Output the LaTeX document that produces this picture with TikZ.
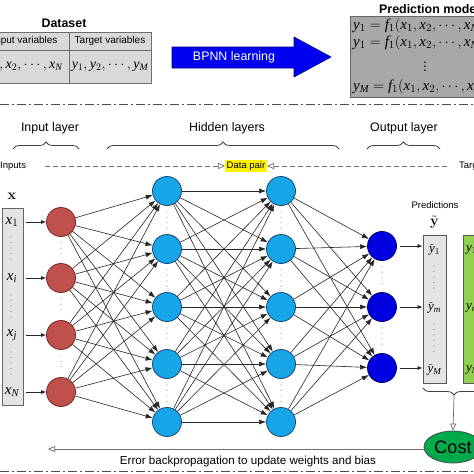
\documentclass[tikz,border=0pt]{standalone}
\usepackage[no-math]{fontspec}
\setmainfont{Liberation Sans}
\newfontfamily\tmsfont{Liberation Serif}[NFSSFamily=libser]
\DeclareSymbolFont{letters}{TU}{libser}{m}{it}
\mathcode`\,="602C
\usetikzlibrary{arrows.meta,decorations.pathreplacing,shapes.geometric,calc}
\newcommand\myfs[1]{\fontsize{#1}{#1}\selectfont}
\definecolor{rednode}{RGB}{192,80,77}
\definecolor{rededge}{RGB}{120,40,38}
\definecolor{hidnode}{RGB}{22,165,230}
\definecolor{hidedge}{RGB}{20,70,120}
\definecolor{outnode}{RGB}{0,0,225}
\definecolor{outedge}{RGB}{0,0,110}
\definecolor{greenbox}{RGB}{146,208,80}
\definecolor{costgreen}{RGB}{0,170,75}
\definecolor{tablegray}{RGB}{217,217,217}
\definecolor{predgray}{RGB}{168,168,168}
\definecolor{boxgray}{RGB}{228,228,228}
\definecolor{linegray}{RGB}{110,110,110}
\definecolor{arrowblue}{RGB}{0,0,240}
\begin{document}
\begin{tikzpicture}[x=1pt,y=-1pt,
  lbl/.style={font=\myfs{12.4}, inner sep=0},
  smalllbl/.style={font=\myfs{9.5}, inner sep=0},
  titlelbl/.style={font=\myfs{12.4}\bfseries, inner sep=0},
  mathlbl/.style={font=\myfs{13}, inner sep=0},
  neuron/.style={circle, minimum size=29pt, inner sep=0, line width=0.8pt},
  rn/.style={neuron, fill=rednode, draw=rededge},
  hn/.style={neuron, fill=hidnode, draw=hidedge},
  on/.style={neuron, fill=outnode, draw=outedge},
  conn/.style={-{Latex[length=7pt,width=5pt]}, line width=0.6pt, black!85},
  sarr/.style={-{Latex[length=5pt,width=4pt]}, line width=0.7pt, black!85},
  openarr/.style={-{Triangle[open,length=7pt,width=6pt]}, line width=0.7pt, linegray},
  dasharr/.style={openarr, dash pattern=on 5pt off 3pt},
  dashdot/.style={line width=1pt, black!70, dash pattern=on 9pt off 3pt on 2pt off 3pt},
  ellip/.style={line cap=round, dash pattern=on 0pt off 5.5pt, line width=1.1pt, black!55},
  bracestyle/.style={decorate, decoration={brace, amplitude=7pt}, line width=0.8pt, black!75}
]
\useasboundingbox (0,0) rectangle (474,474);
\clip (0,0) rectangle (474,474);
\fill[white] (0,0) rectangle (474,474);

% ---------- top section ----------
\node[titlelbl] (dstitle) at (64,23) {Dataset};
\fill[tablegray] (-20,32) rectangle (151,83);
\draw[linegray, line width=0.8pt] (-20,32) rectangle (151,83);
\draw[linegray, line width=0.8pt] (-20,50) -- (151,50);
\draw[linegray, line width=0.8pt] (69,32) -- (69,83);
\node[font=\myfs{10}, inner sep=0] (inv) at (25,41) {Input variables};
\node[font=\myfs{10}, inner sep=0] (tgv) at (110,41) {Target variables};
\node[font=\myfs{14}, inner sep=0] (xs) at (25,67) {$x_1,x_2,\cdots,x_N$};
\node[font=\myfs{14}, inner sep=0] (ys) at (110,67) {$y_1,y_2,\cdots,y_M$};

\filldraw[fill=arrowblue, draw=blue!50!black, line width=0.6pt]
  (172,47) -- (294,47) -- (294,37) -- (331,57) -- (294,77) -- (294,68) -- (172,68) -- cycle;
\node[lbl, text=white] (bpnn) at (234,57.5) {BPNN learning};

\node[titlelbl, anchor=west] (pmtitle) at (379,9) {Prediction model};
\fill[predgray] (350,16) rectangle (490,97);
\draw[black!60, line width=0.8pt] (350,16) rectangle (490,97);
\node[font=\myfs{15}, inner sep=0, anchor=west] (pm1) at (353,26) {$y_1 = f_1(x_1,x_2,\cdots,x_N)$};
\node[font=\myfs{15}, inner sep=0, anchor=west] (pm2) at (353,43) {$y_1 = f_1(x_1,x_2,\cdots,x_N)$};
\node[font=\myfs{14}, inner sep=0] (pmdots) at (425,64) {$\vdots$};
\node[font=\myfs{15}, inner sep=0, anchor=west] (pm3) at (353,87) {$y_M = f_1(x_1,x_2,\cdots,x_N)$};

\draw[dashdot] (0,104) -- (474,104);

% ---------- layer labels ----------
\node[lbl] (inlab) at (50,128) {Input layer};
\node[lbl] (hidlab) at (227,128) {Hidden layers};
\node[lbl] (outlab) at (404,128) {Output layer};
\draw[bracestyle] (13,149) -- (79,149);
\draw[bracestyle] (107,149) -- (339,149);
\draw[bracestyle] (367,149) -- (440,149);

\node[smalllbl, anchor=west] (inputs) at (0,166) {Inputs};
\node[smalllbl, fill=yellow, inner sep=1.5pt] (dpair) at (246,166) {Data pair};
\node[smalllbl, anchor=west] (targets) at (459,166) {Targets};
\coordinate (dl) at (45,166);
\coordinate (dr) at (447,166);
\draw[dasharr] (dl) -- (dpair.west);
\draw[dasharr] (dr) -- (dpair.east);

% ---------- input vector ----------
\node[font=\myfs{15}, inner sep=0] (xbold) at (12,196) {$\mathbf{x}$};
\node[draw=black!60, fill=boxgray, line width=0.8pt, minimum width=21pt, minimum height=197pt, inner sep=0] (xbox) at (12.5,306.5) {};
\node[mathlbl, font=\myfs{15}] (x1) at (12,222) {$x_1$};
\node[mathlbl, font=\myfs{15}] (xi) at (12,278) {$x_i$};
\node[mathlbl, font=\myfs{15}] (xj) at (12,335) {$x_j$};
\node[mathlbl, font=\myfs{15}] (xN) at (12,392) {$x_N$};
\draw[ellip] (11,237) -- (11,264);
\draw[ellip] (11,295) -- (11,320);
\draw[ellip] (11,352) -- (11,378);

% ---------- neurons ----------
\foreach \n/\y in {1/222,2/278,3/335,4/392} \node[rn] (r\n) at (61,\y) {};
\foreach \n/\y in {1/191,2/249,3/307,4/364,5/422} {
  \node[hn] (a\n) at (167,\y) {};
  \node[hn] (b\n) at (281,\y) {};
}
\foreach \n/\y in {1/246,2/307,3/368} \node[on] (o\n) at (382,\y) {};

% arrows from vector to input neurons
\foreach \n in {1,2,3,4} \draw[sarr, shorten <=3pt] (xbox.east |- r\n) -- (r\n);

% dots between neurons
\foreach \a/\b in {r1/r2,r2/r3,r3/r4,a1/a2,a2/a3,a3/a4,a4/a5,b1/b2,b2/b3,b3/b4,b4/b5,o1/o2,o2/o3}
  \draw[ellip] ($(\a.south)+(0,6)$) -- ($(\b.north)-(0,5)$);

% connections
\foreach \i in {1,...,4} \foreach \j in {1,...,5} \draw[conn] (r\i) -- (a\j);
\foreach \i in {1,...,5} \foreach \j in {1,...,5} \draw[conn] (a\i) -- (b\j);
\foreach \i in {1,...,5} \foreach \j in {1,...,3} \draw[conn] (b\i) -- (o\j);

% ---------- predictions ----------
\node[font=\myfs{9.5}, inner sep=0] (predlab) at (435,205) {Predictions};
\node[font=\myfs{15}, inner sep=0] (ytil) at (434.5,222) {$\tilde{\mathbf{y}}$};
\node[draw=black!65, fill=boxgray, line width=0.8pt, minimum width=23pt, minimum height=148pt, inner sep=0] (pbox) at (434.5,309) {};
\node[mathlbl] (p1) at (434.5,250) {$\tilde{y}_1$};
\node[mathlbl] (pm) at (434.5,308) {$\tilde{y}_m$};
\node[mathlbl] (pM) at (434.5,370) {$\tilde{y}_M$};
\draw[ellip] (434,266) -- (434,292);
\draw[ellip] (434,324) -- (434,354);
\foreach \n in {1,2,3} \draw[sarr, shorten <=3pt] (o\n) -- (pbox.west |- o\n);

\node[draw=black!65, fill=greenbox, line width=0.8pt, minimum width=30pt, minimum height=148pt, inner sep=0, anchor=north west] (gbox) at (463,235) {};
\node[mathlbl, anchor=west] (g1) at (466,250) {$y_1$};
\node[mathlbl, anchor=west] (gm) at (466,308) {$y_m$};
\node[mathlbl, anchor=west] (gM) at (466,370) {$y_M$};

\draw[bracestyle] (485,388) -- (423,388);
\coordinate (btip) at (454,396);

% ---------- cost ----------
\node[ellipse, draw=black!70, fill=costgreen, line width=0.8pt, minimum width=58pt, minimum height=32pt, inner sep=0, font=\myfs{18}] (cost) at (453,447) {Cost};
\draw[openarr] (btip) -- (cost.north);
\coordinate (bpend) at (48,449);
\draw[openarr] (cost.west |- bpend) -- (bpend);
\node[font=\myfs{11.6}, inner sep=0] (bplab) at (248,461) {Error backpropagation to update weights and bias};

\draw[dashdot] (0,471) -- (474,471);
\end{tikzpicture}
\end{document}
